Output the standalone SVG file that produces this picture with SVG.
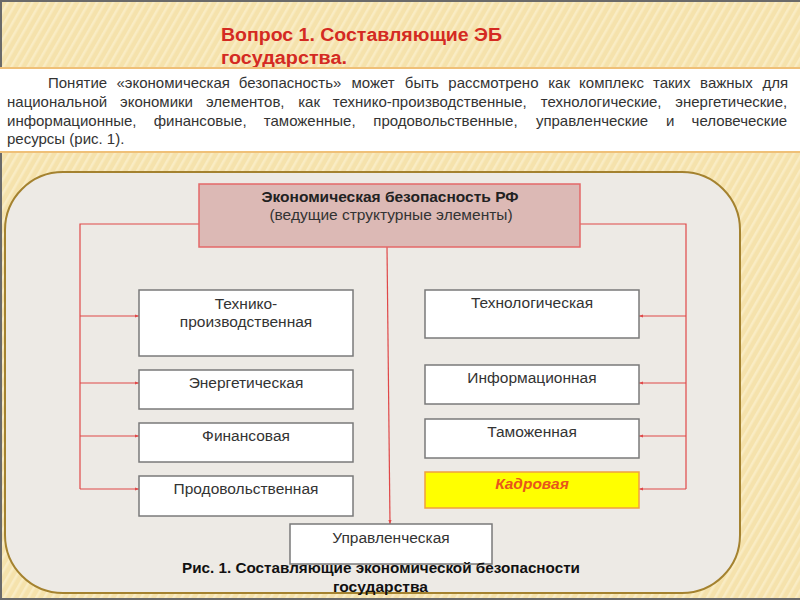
<svg xmlns="http://www.w3.org/2000/svg" width="800" height="600" viewBox="0 0 800 600">
<defs>
<pattern id="stripes" width="7" height="7" patternUnits="userSpaceOnUse" patternTransform="rotate(30)">
<rect width="7" height="7" fill="#f5e2ac"/>
<rect width="2.5" height="7" fill="#f9ecc4"/>
</pattern>
<marker id="arr" viewBox="0 0 10 10" refX="10" refY="5" markerWidth="4" markerHeight="4" orient="auto" markerUnits="userSpaceOnUse">
<path d="M0,1 L10,5 L0,9 z" fill="#e04848"/>
</marker>
<style>
.t{font-family:"Liberation Sans",Arial,sans-serif;fill:#333}
.p{font-size:15px}
.b{font-size:15.5px;text-anchor:middle}
.box{fill:#fff;stroke:#7a7a7a;stroke-width:1.5}
.c{fill:none;stroke:#e04848;stroke-width:1.2}
</style>
</defs>
<rect x="0" y="0" width="800" height="600" fill="url(#stripes)"/>
<path d="M1,600 V1 H800" fill="none" stroke="#6a6a6a" stroke-width="2"/>
<line x1="0" y1="599" x2="800" y2="599" stroke="#6a6a6a" stroke-width="2"/>

<g id="title">
<text x="221" y="41" font-family="Liberation Sans,Arial,sans-serif" font-weight="bold" font-size="18" fill="#d42a22" textLength="281" lengthAdjust="spacingAndGlyphs">Вопрос 1. Составляющие ЭБ</text>
<text x="221" y="64" font-family="Liberation Sans,Arial,sans-serif" font-weight="bold" font-size="18" fill="#d42a22" textLength="126" lengthAdjust="spacingAndGlyphs">государства.</text>
</g>

<g id="intro">
<rect x="-2" y="68" width="804" height="84" fill="#fff" stroke="#efc078" stroke-width="2"/>
<text class="t p" y="88"><tspan x="48">Понятие</tspan><tspan x="116.5">«экономическая</tspan><tspan x="238.8">безопасность»</tspan><tspan x="351.5">может</tspan><tspan x="404.8">быть</tspan><tspan x="448.3">рассмотрено</tspan><tspan x="548.2">как</tspan><tspan x="579.1">комплекс</tspan><tspan x="653">таких</tspan><tspan x="700.1">важных</tspan><tspan x="762.4">для</tspan></text>
<text class="t p" y="107"><tspan x="7">национальной</tspan><tspan x="120">экономики</tspan><tspan x="206">элементов,</tspan><tspan x="298.2">как</tspan><tspan x="332.8">технико-производственные,</tspan><tspan x="540.8">технологические,</tspan><tspan x="675.3">энергетические,</tspan></text>
<text class="t p" y="126"><tspan x="7">информационные,</tspan><tspan x="153.7">финансовые,</tspan><tspan x="263.8">таможенные,</tspan><tspan x="373.3">продовольственные,</tspan><tspan x="535.9">управленческие</tspan><tspan x="665.9">и</tspan><tspan x="691.6">человеческие</tspan></text>
<text class="t p" x="7" y="144">ресурсы (рис. 1).</text>
</g>

<g id="panel">
<rect x="5" y="172" width="735" height="421" rx="58" ry="58" fill="#edeae5" stroke="#a4822f" stroke-width="2"/>
</g>

<g id="connectors">
<path class="c" d="M199,224 H80 V489"/>
<path class="c" d="M80,316 H139" marker-end="url(#arr)"/>
<path class="c" d="M80,383 H139" marker-end="url(#arr)"/>
<path class="c" d="M80,436 H139" marker-end="url(#arr)"/>
<path class="c" d="M80,489 H139" marker-end="url(#arr)"/>
<path class="c" d="M580,224 H686 V489"/>
<path class="c" d="M686,316 H639" marker-end="url(#arr)"/>
<path class="c" d="M686,383 H639" marker-end="url(#arr)"/>
<path class="c" d="M686,436 H639" marker-end="url(#arr)"/>
<path class="c" d="M686,489 H639" marker-end="url(#arr)"/>
<path class="c" d="M387,247 L390,524" marker-end="url(#arr)"/>
</g>

<g id="root">
<rect x="199" y="184" width="381" height="63" fill="#dcb9b5" stroke="#e46868" stroke-width="1.5"/>
<text class="t" x="390" y="202" text-anchor="middle" font-size="15.5" font-weight="bold" style="fill:#222">Экономическая безопасность РФ</text>
<text class="t" x="391" y="220" text-anchor="middle" font-size="15.5">(ведущие структурные элементы)</text>
</g>

<g id="n-tech-prod">
<rect class="box" x="139" y="290" width="214" height="66"/>
<text class="t b" x="246" y="309">Технико-</text>
<text class="t b" x="246" y="327">производственная</text>
</g>
<g id="n-energy">
<rect class="box" x="139" y="370" width="214" height="39"/>
<text class="t b" x="246" y="388">Энергетическая</text>
</g>
<g id="n-finance">
<rect class="box" x="139" y="423" width="214" height="39"/>
<text class="t b" x="246" y="441">Финансовая</text>
</g>
<g id="n-food">
<rect class="box" x="139" y="476" width="214" height="40"/>
<text class="t b" x="246" y="494">Продовольственная</text>
</g>

<g id="n-techno">
<rect class="box" x="425" y="290" width="214" height="48"/>
<text class="t b" x="532" y="308">Технологическая</text>
</g>
<g id="n-info">
<rect class="box" x="425" y="365" width="214" height="39"/>
<text class="t b" x="532" y="383">Информационная</text>
</g>
<g id="n-customs">
<rect class="box" x="425" y="419" width="214" height="39"/>
<text class="t b" x="532" y="437">Таможенная</text>
</g>
<g id="n-personnel">
<rect x="425" y="472" width="214" height="36" fill="#ffff00" stroke="#f0a040" stroke-width="1.5"/>
<text class="t b" x="532" y="489" font-weight="bold" font-style="italic" style="fill:#e8561c">Кадровая</text>
</g>

<g id="n-manage">
<rect class="box" x="290" y="524" width="202" height="40"/>
<text class="t b" x="391" y="543">Управленческая</text>
</g>

<g id="caption">
<text x="182" y="573" font-family="Liberation Sans,Arial,sans-serif" font-weight="bold" font-size="14" fill="#111" textLength="398" lengthAdjust="spacingAndGlyphs">Рис. 1. Составляющие экономической безопасности</text>
<text x="333" y="592" font-family="Liberation Sans,Arial,sans-serif" font-weight="bold" font-size="14" fill="#111" textLength="95" lengthAdjust="spacingAndGlyphs">государства</text>
</g>
</svg>
